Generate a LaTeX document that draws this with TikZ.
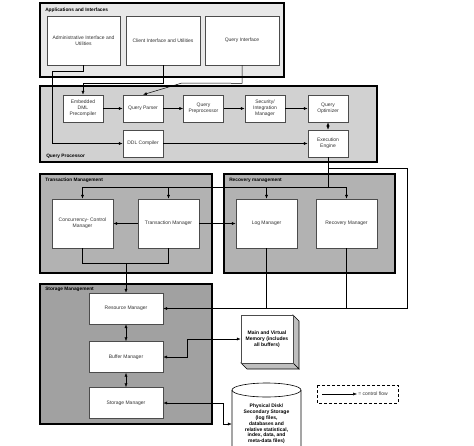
\documentclass[tikz,border=0pt]{standalone}
\usepackage{fontspec}
\setmainfont{Liberation Sans}
\usetikzlibrary{arrows.meta}

\begin{document}
\begin{tikzpicture}[x=1pt, y=-1pt,
        >={Latex[length=3.8pt,width=3pt]},
        every node/.style={font=\fontsize{5}{6}\selectfont, text=black!80},
        part/.style={draw=black!70, fill=white, line width=0.6pt, align=center, inner sep=1pt},
        abox/.style={part, minimum width=73pt, minimum height=49pt},
        qbox/.style={part, minimum width=40pt, minimum height=27pt},
        tbox/.style={part, minimum width=61pt, minimum height=49pt},
        sbox/.style={part, minimum width=74pt, minimum height=31pt},
        groupbox/.style={draw, line width=1.2pt},
        grouptitle/.style={font=\fontsize{4.8}{6}\selectfont\bfseries, text=black, anchor=west, inner sep=0pt},
        bold/.style={font=\fontsize{5}{5.8}\selectfont\bfseries, text=black, align=center},
        every path/.style={line width=0.5pt}]
        \useasboundingbox (0,0) rectangle (474,445);

        % groups
        \draw[groupbox, fill=black!9] (40,3) rectangle (284,77);
        \draw[groupbox, fill=black!18] (40,86) rectangle (377,162);
        \draw[groupbox, fill=black!30] (40,174) rectangle (212,273);
        \draw[groupbox, fill=black!30] (224,174) rectangle (395,273);
        \draw[groupbox, fill=black!37] (40,284) rectangle (212,424);

        \node[grouptitle] (appt) at (45,10) {Applications and Interfaces};
        \node[grouptitle] (qpt) at (46,156) {Query Processor};
        \node[grouptitle] (tmt) at (45,180) {Transaction Management};
        \node[grouptitle] (rmt) at (229,180) {Recovery management};

        % applications
        \draw (83.5, 40.5) node[abox] (adm) {Administrative Interface and\\Utilities};
        \draw (163, 40.5) node[abox, minimum width=74pt] (cli) {Client Interface and Utilities};
        \draw (242, 40.5) node[abox, minimum width=74pt] (qif) {Query Interface};

        % query processor
        \draw (83, 108.5) node[qbox] (emb) {Embedded\\DML\\Precompiler};
        \draw (143, 108.5) node[qbox] (qpar) {Query Parser};
        \draw (203.5, 108.5) node[qbox] (qpre) {Query\\Preprocessor};
        \draw (265, 108.5) node[qbox] (sec) {Security/\\Integration\\Manager};
        \draw (328, 108.5) node[qbox] (qopt) {Query\\Optimizer};
        \draw (328, 143.5) node[qbox] (exe) {Execution\\Engine};
        \draw (143, 143.5) node[qbox] (ddl) {DDL Compiler};

        % transaction and recovery
        \draw (82.5, 223.5) node[tbox] (ccm) {Concurrency- Control\\Manager};
        \draw (168.5, 223.5) node[tbox] (tmg) {Transaction Manager};
        \draw (266.5, 223.5) node[tbox] (log) {Log Manager};
        \draw (346.5, 223.5) node[tbox] (rec) {Recovery Manager};

        % storage
        \draw (126, 308.5) node[sbox] (res) {Resource Manager};
        \draw (126, 357) node[sbox] (buf) {Buffer Manager};
        \draw (126, 403) node[sbox] (sto) {Storage Manager};
        \node[grouptitle] (smt) at (45,289.5) {Storage Management};

        % memory
        \draw[fill=black!25, line width=0.6pt] (293,315) -- (299,321) -- (299,369) -- (293,363) -- cycle;
        \draw[fill=black!25, line width=0.6pt] (241,363) -- (247,369) -- (299,369) -- (293,363) -- cycle;
        \draw (267, 339) node[part, bold, minimum width=52pt, minimum height=48pt] (mem) {Main and Virtual\\Memory (includes\\all buffers)};

        % disk
        \draw[fill=white, line width=0.6pt] (232,470) -- (232,390)
            arc[start angle=180, end angle=0, x radius=34.5pt, y radius=7pt] -- (301,470);
        \draw[line width=0.6pt] (232,390) arc[start angle=180, end angle=360, x radius=34.5pt, y radius=7pt];
        \node[bold, minimum width=69pt, inner sep=0pt] (disk) at (266.5,424) {Physical Disk/\\Secondary Storage\\(log files,\\databases and\\relative statistical,\\index, data, and\\meta-data files)};

        % legend
        \draw[dash pattern=on 3pt off 2pt, line width=0.6pt] (317,385) rectangle (398,403);
        \coordinate (lga) at (322,394);
        \node[anchor=west, inner sep=1pt] (lgt) at (357,394) {= control flow};
        \draw[->] (lga) -- (lgt.west);

        % applications to processor
        \draw[->] (adm.south) -- ++(0,6) -| (52,143.5) -- (ddl.west);
        \draw[->] (cli.south) -- ++(0,18) -| (emb.north);
        \draw[->] (qif.south) -- ++(0,18) -- (182,83) -- (qpar.north);

        \draw[->] (emb) -- (qpar);
        \draw[->] (qpar) -- (qpre);
        \draw[->] (qpre) -- (sec);
        \draw[->] (sec) -- (qopt);
        \draw[<->] (qopt) -- (exe);
        \draw[->] (ddl) -- (exe);

        % engine to managers
        \draw (exe.south) -- ++(0,30) coordinate (bus);
        \draw[->] (bus) -| (rec.north);
        \draw[->] (bus) -| (ccm.north);
        \draw[->] (bus -| tmg.north) -- (tmg.north);
        \draw[->] (bus -| log.north) -- (log.north);

        \coordinate (rbend) at (407,308.5);
        \draw[->] (exe.south) ++(0,11) -| (rbend) -- (res.east);
        \draw (log.south) -- (log.south |- rbend);
        \draw (rec.south) -- (rec.south |- rbend);

        \draw[->] (tmg) -- (ccm);
        \draw[->] (tmg) -- (log);
        \draw (ccm.south) -- ++(0,15) -| (tmg.south);
        \coordinate (tjoin) at (126,263);
        \draw[->] (tjoin) -- (res.north);

        % storage
        \draw[<->] (res) -- (buf);
        \draw[<->] (buf) -- (sto);
        \draw[<->] (buf.east) -- ++(24,0) |- (mem.west);
        \draw[<->] (sto.east) -- ++(60,0) |- (disk.west);
    \end{tikzpicture}
\end{document}
